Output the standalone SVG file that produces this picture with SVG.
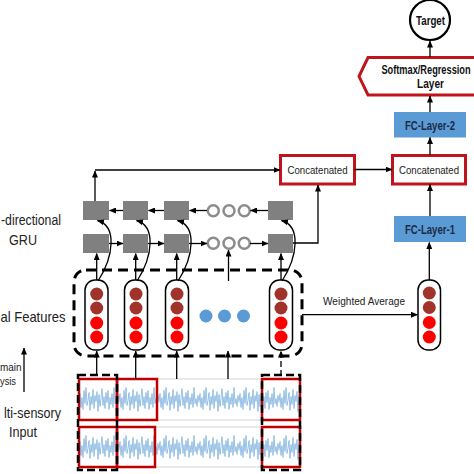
<svg xmlns="http://www.w3.org/2000/svg" xmlns:xlink="http://www.w3.org/1999/xlink" width="474" height="474" viewBox="0 0 474 474">
<style>
.lbl{font-family:"Liberation Sans",Arial,sans-serif;fill:#222}
.bold{font-family:"Liberation Sans",Arial,sans-serif;font-weight:bold}
.conn{stroke:#000;stroke-width:1.3;fill:none}
.gru{fill:#808080}
.ring{fill:none;stroke:#8c8c8c;stroke-width:2.5}
.redbox{fill:#fff;stroke:#c0141c;stroke-width:3}
.fc{fill:#5b9bd5}
.fv{fill:#fff;stroke:#000;stroke-width:1.5}
.br{fill:#a0342b}
.rd{fill:#ff0000}
.bl{fill:#5b9bd5}
.sig{fill:none;stroke:#c00000;stroke-width:2.5}
.dash{fill:none;stroke:#000;stroke-width:2.5;stroke-dasharray:8 4}
</style>
<defs>
<marker id="ah" markerWidth="7" markerHeight="6" refX="6.5" refY="3" orient="auto" markerUnits="userSpaceOnUse">
<path d="M0,0 L7,3 L0,6 Z" fill="#000"/>
</marker>
<pattern id="wave" patternUnits="userSpaceOnUse" x="0" y="0" width="40" height="41">
<path d="M0,23.5 L1,14.5 L2,28.5 L3,18.5 L4,30.5 L5,11.5 L6,24.5 L7,8.5 L8,26.5 L9,21.5 L10,13.5 L11,31.5 L12,17.5 L13,25.5 L14,10.5 L15,29.5 L16,16.5 L17,22.5 L18,12.5 L19,32.5 L20,15.5 L21,27.5 L22,19.5 L23,9.5 L24,26.5 L25,17.5 L26,29.5 L27,13.5 L28,23.5 L29,11.5 L30,30.5 L31,18.5 L32,25.5 L33,14.5 L34,28.5 L35,8.5 L36,24.5 L37,19.5 L38,27.5 L39,16.5 L40,23.5" fill="none" stroke="#7fb2de" stroke-width="0.8"/>
</pattern>
</defs>
<rect width="474" height="474" fill="#fff"/>

<g id="labels">
<text class="lbl" x="1" y="225" font-size="14" textLength="60" lengthAdjust="spacingAndGlyphs">-directional</text>
<text class="lbl" x="23" y="245" font-size="14" text-anchor="middle" textLength="28" lengthAdjust="spacingAndGlyphs">GRU</text>
<text class="lbl" x="0.5" y="322" font-size="15" textLength="65" lengthAdjust="spacingAndGlyphs">al Features</text>
<text class="lbl" x="0" y="371" font-size="11" textLength="21.5" lengthAdjust="spacingAndGlyphs">main</text>
<text class="lbl" x="0" y="385" font-size="11" textLength="16" lengthAdjust="spacingAndGlyphs">ysis</text>
<text class="lbl" x="4" y="418" font-size="15" textLength="57" lengthAdjust="spacingAndGlyphs">lti-sensory</text>
<text class="lbl" x="23" y="437" font-size="15" text-anchor="middle" textLength="28" lengthAdjust="spacingAndGlyphs">Input</text>
</g>

<g id="signals">
<line x1="79" y1="379" x2="300" y2="379" stroke="#d4d4d4" stroke-width="1"/>
<line x1="79" y1="420" x2="300" y2="420" stroke="#d4d4d4" stroke-width="1"/>
<line x1="79" y1="427" x2="300" y2="427" stroke="#d4d4d4" stroke-width="1"/>
<line x1="79" y1="467" x2="300" y2="467" stroke="#d4d4d4" stroke-width="1"/>
<g transform="translate(79,379)"><rect width="221" height="41" fill="url(#wave)"/></g>
<g transform="translate(79,427)"><rect width="221" height="40" fill="url(#wave)"/></g>
<rect class="sig" x="79" y="379" width="38" height="41"/>
<rect class="sig" x="117" y="379" width="40" height="41"/>
<rect class="sig" x="262" y="379" width="38" height="41"/>
<rect class="sig" x="79" y="427" width="38" height="40"/>
<rect class="sig" x="117" y="427" width="38" height="40"/>
<rect class="sig" x="262" y="427" width="38" height="40"/>
<rect class="dash" x="78" y="375" width="39" height="95"/>
<rect class="dash" x="262" y="375" width="38" height="95"/>
</g>

<g id="feature-box">
<rect x="74" y="270" width="228" height="86" rx="12" fill="none" stroke="#000" stroke-width="3" stroke-dasharray="10 6"/>
</g>

<g id="fv1">
<rect class="fv" x="85" y="280" width="23" height="70" rx="10"/>
<circle class="br" cx="96.7" cy="294" r="6.5"/><circle class="br" cx="96.7" cy="308" r="6.5"/>
<circle class="rd" cx="96.7" cy="323" r="6.5"/><circle class="rd" cx="96.7" cy="337" r="6.5"/>
</g>
<g id="fv2">
<rect class="fv" x="124.5" y="280" width="23" height="70" rx="10"/>
<circle class="br" cx="136" cy="294" r="6.5"/><circle class="br" cx="136" cy="308" r="6.5"/>
<circle class="rd" cx="136" cy="323" r="6.5"/><circle class="rd" cx="136" cy="337" r="6.5"/>
</g>
<g id="fv3">
<rect class="fv" x="165.5" y="280" width="23" height="70" rx="10"/>
<circle class="br" cx="177" cy="294" r="6.5"/><circle class="br" cx="177" cy="308" r="6.5"/>
<circle class="rd" cx="177" cy="323" r="6.5"/><circle class="rd" cx="177" cy="337" r="6.5"/>
</g>
<g id="dots">
<circle class="bl" cx="206" cy="316" r="6.5"/><circle class="bl" cx="224.5" cy="316" r="6.5"/><circle class="bl" cx="243.5" cy="316" r="6.5"/>
</g>
<g id="fv4">
<rect class="fv" x="269.5" y="280" width="23" height="70" rx="10"/>
<circle class="br" cx="281" cy="294" r="6.5"/><circle class="br" cx="281" cy="308" r="6.5"/>
<circle class="rd" cx="281" cy="323" r="6.5"/><circle class="rd" cx="281" cy="337" r="6.5"/>
</g>
<g id="fv-avg">
<rect class="fv" x="418" y="280" width="22.5" height="70" rx="10"/>
<circle class="br" cx="429.3" cy="293" r="6.5"/><circle class="br" cx="429.3" cy="307.5" r="6.5"/>
<circle class="rd" cx="429.3" cy="322.5" r="6.5"/><circle class="rd" cx="429.3" cy="337" r="6.5"/>
</g>

<g id="gru-top">
<rect class="gru" x="83" y="201" width="26" height="19"/>
<rect class="gru" x="123" y="201" width="25" height="19"/>
<rect class="gru" x="164" y="201" width="25" height="19"/>
<circle class="ring" cx="213.3" cy="210.7" r="5.5"/><circle class="ring" cx="229" cy="210.7" r="5.5"/><circle class="ring" cx="244.3" cy="210.7" r="5.5"/>
<rect class="gru" x="268" y="201" width="25" height="19"/>
</g>
<g id="gru-bottom">
<rect class="gru" x="83" y="234" width="26" height="19"/>
<rect class="gru" x="123" y="234" width="25" height="19"/>
<rect class="gru" x="164" y="234" width="25" height="19"/>
<circle class="ring" cx="213.3" cy="243.3" r="5.5"/><circle class="ring" cx="229" cy="243.3" r="5.5"/><circle class="ring" cx="244.3" cy="243.3" r="5.5"/>
<rect class="gru" x="268" y="234" width="25" height="19"/>
</g>

<g id="concat1">
<rect class="redbox" x="280.5" y="155.5" width="74" height="28.5"/>
<text class="lbl" x="317.5" y="174" font-size="11.5" text-anchor="middle" textLength="60" lengthAdjust="spacingAndGlyphs" fill="#333">Concatenated</text>
</g>
<g id="concat2">
<rect class="redbox" x="392.5" y="155.5" width="73" height="28.5"/>
<text class="lbl" x="429" y="174" font-size="11.5" text-anchor="middle" textLength="60" lengthAdjust="spacingAndGlyphs" fill="#333">Concatenated</text>
</g>
<g id="fc1">
<rect class="fc" x="394" y="216" width="72" height="26"/>
<text class="bold" x="430" y="233.5" font-size="12" text-anchor="middle" textLength="50" lengthAdjust="spacingAndGlyphs" fill="#1b2a45">FC-Layer-1</text>
</g>
<g id="fc2">
<rect class="fc" x="394" y="112" width="72" height="25.5"/>
<text class="bold" x="430" y="129.5" font-size="12" text-anchor="middle" textLength="50" lengthAdjust="spacingAndGlyphs" fill="#1b2a45">FC-Layer-2</text>
</g>
<g id="softmax">
<path d="M480,57.5 L368,57.5 L359,76.3 L368,95 L480,95" fill="#fff" stroke="#c0141c" stroke-width="3"/>
<text class="bold" transform="translate(426,74) scale(0.77,1)" x="0" y="0" font-size="12" text-anchor="middle" fill="#111">Softmax/Regression</text>
<text class="bold" x="430.5" y="88" font-size="12" text-anchor="middle" textLength="27" lengthAdjust="spacingAndGlyphs" fill="#111">Layer</text>
</g>
<g id="target">
<circle cx="430" cy="20" r="20" fill="#fff" stroke="#000" stroke-width="2.2"/>
<text class="bold" x="430.5" y="25" font-size="12.5" text-anchor="middle" textLength="29" lengthAdjust="spacingAndGlyphs" fill="#111">Target</text>
</g>

<g id="connectors">
<line class="conn" x1="95" y1="201" x2="95" y2="171" marker-end="url(#ah)"/>
<line class="conn" x1="95" y1="170" x2="280" y2="170" marker-end="url(#ah)"/>
<path class="conn" d="M293,243 L318,243 L318,185" marker-end="url(#ah)"/>
<line class="conn" x1="354.5" y1="169.5" x2="392" y2="169.5" marker-end="url(#ah)"/>
<line class="conn" x1="430" y1="216" x2="430" y2="184.5" marker-end="url(#ah)"/>
<line class="conn" x1="430" y1="155" x2="430" y2="137.5" marker-end="url(#ah)"/>
<line class="conn" x1="430" y1="112" x2="430" y2="96" marker-end="url(#ah)"/>
<line class="conn" x1="430" y1="57" x2="430" y2="41" marker-end="url(#ah)"/>
<line class="conn" x1="429.3" y1="280" x2="429.3" y2="242.5" marker-end="url(#ah)"/>
<line class="conn" x1="302" y1="314.7" x2="417.5" y2="314.7" marker-end="url(#ah)"/>
<text class="lbl" x="323" y="305" font-size="11.5" textLength="82" lengthAdjust="spacingAndGlyphs" fill="#333">Weighted  Average</text>
<line class="conn" x1="123" y1="210.5" x2="109.5" y2="210.5" marker-end="url(#ah)"/>
<line class="conn" x1="164" y1="210.5" x2="148.5" y2="210.5" marker-end="url(#ah)"/>
<line class="conn" x1="207" y1="210.5" x2="189.5" y2="210.5" marker-end="url(#ah)"/>
<line class="conn" x1="268" y1="210.5" x2="250.5" y2="210.5" marker-end="url(#ah)"/>
<line class="conn" x1="109" y1="243.5" x2="123" y2="243.5" marker-end="url(#ah)"/>
<line class="conn" x1="148" y1="243.5" x2="164" y2="243.5" marker-end="url(#ah)"/>
<line class="conn" x1="189" y1="243.5" x2="207" y2="243.5" marker-end="url(#ah)"/>
<line class="conn" x1="250" y1="243.5" x2="268" y2="243.5" marker-end="url(#ah)"/>
<line class="conn" x1="96.7" y1="280" x2="96.7" y2="253.5" marker-end="url(#ah)"/>
<line class="conn" x1="135.7" y1="280" x2="135.7" y2="253.5" marker-end="url(#ah)"/>
<line class="conn" x1="176.7" y1="280" x2="176.7" y2="253.5" marker-end="url(#ah)"/>
<line class="conn" x1="228.5" y1="281" x2="228.5" y2="250" marker-end="url(#ah)"/>
<line class="conn" x1="281" y1="280" x2="281" y2="253.5" marker-end="url(#ah)"/>
<path class="conn" d="M98,281 C114,256 117,226 97.5,220.5" marker-end="url(#ah)"/>
<path class="conn" d="M137,281 C153,256 156,226 136.5,220.5" marker-end="url(#ah)"/>
<path class="conn" d="M178,281 C194,256 197,226 177.5,220.5" marker-end="url(#ah)"/>
<path class="conn" d="M282,281 C298,256 301,226 281.5,220.5" marker-end="url(#ah)"/>
<line class="conn" x1="96.7" y1="375" x2="96.7" y2="351" marker-end="url(#ah)"/>
<line class="conn" x1="135.7" y1="379" x2="135.7" y2="351" marker-end="url(#ah)"/>
<line class="conn" x1="176.7" y1="379" x2="176.7" y2="351" marker-end="url(#ah)"/>
<line class="conn" x1="228" y1="379" x2="228" y2="351" marker-end="url(#ah)"/>
<line class="conn" x1="281" y1="376" x2="281" y2="351" marker-end="url(#ah)" stroke-dasharray="6 3"/>
<line class="conn" x1="24" y1="392" x2="24" y2="348" marker-end="url(#ah)"/>
</g>
</svg>
